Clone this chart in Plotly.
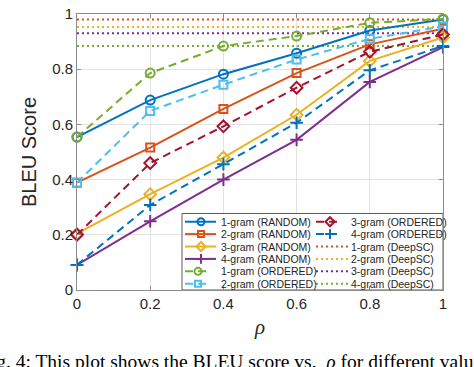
import plotly.graph_objects as go

rho = [0, 0.2, 0.4, 0.6, 0.8, 1.0]

g1_random = [0.554, 0.688, 0.782, 0.858, 0.940, 0.980]
g2_random = [0.389, 0.516, 0.656, 0.786, 0.890, 0.947]
g3_random = [0.204, 0.347, 0.480, 0.635, 0.830, 0.915]
g4_random = [0.091, 0.249, 0.400, 0.544, 0.754, 0.880]
g1_ordered = [0.554, 0.786, 0.884, 0.920, 0.968, 0.982]
g2_ordered = [0.389, 0.649, 0.744, 0.835, 0.910, 0.955]
g3_ordered = [0.200, 0.460, 0.593, 0.733, 0.863, 0.926]
g4_ordered = [0.091, 0.308, 0.456, 0.606, 0.796, 0.884]
deepsc = [0.980, 0.953, 0.930, 0.884]
deepsc_names = ["1-gram (DeepSC)", "2-gram (DeepSC)", "3-gram (DeepSC)", "4-gram (DeepSC)"]

BLUE = "#0072BD"; ORANGE = "#D95319"; YELLOW = "#EDB120"; PURPLE = "#7E2F8E"
GREEN = "#77AC30"; LBLUE = "#4DBEEE"; DRED = "#A2142F"

DASH = "8px,5px"
DOT = "2px,3px"

series = [
    ("1-gram (RANDOM)", g1_random, BLUE, "solid", "circle-open"),
    ("2-gram (RANDOM)", g2_random, ORANGE, "solid", "square-open"),
    ("3-gram (RANDOM)", g3_random, YELLOW, "solid", "diamond-open"),
    ("4-gram (RANDOM)", g4_random, PURPLE, "solid", "cross-thin-open"),
    ("1-gram (ORDERED)", g1_ordered, GREEN, DASH, "circle-open"),
    ("2-gram (ORDERED)", g2_ordered, LBLUE, DASH, "square-open"),
    ("3-gram (ORDERED)", g3_ordered, DRED, DASH, "diamond-open"),
    ("4-gram (ORDERED)", g4_ordered, BLUE, DASH, "cross-thin-open"),
]
ds_colors = [ORANGE, YELLOW, PURPLE, GREEN]

def msize(sym):
    return 9 if "cross" in sym else (8 if "square" in sym else 9)

fig = go.Figure()

# DeepSC reference lines
for v, c, n in zip(deepsc, ds_colors, deepsc_names):
    fig.add_trace(go.Scatter(x=[rho[0], rho[-1]], y=[v, v], name=n, mode="lines",
                             line=dict(color=c, width=2, dash=DOT), showlegend=False))

for name, y, c, d, sym in series:
    fig.add_trace(go.Scatter(
        x=rho, y=y, name=name, mode="lines+markers",
        line=dict(color=c, width=2, dash=d),
        marker=dict(symbol=sym, size=msize(sym), color=c, line=dict(color=c, width=2)),
        showlegend=False, cliponaxis=False))

# ---- manual legend (layout only), drawn on an overlay axis in pixel units ----
L, R, T, B = 77, 443, 5, 290
row_y = [219.5, 232.3, 245.1, 257.9, 270.7, 283.5]
entries = [(s[0], s[2], s[3], s[4]) for s in series] + \
          [(n, c, DOT, None) for n, c in zip(deepsc_names, ds_colors)]
font = "Liberation Sans, Arial, sans-serif"
annotations = []
for i, (name, c, d, sym) in enumerate(entries):
    col, row = divmod(i, 6)
    yy = row_y[row]
    if col == 0:
        if d == "solid":
            x0, x1, xm = 185, 216, 201
        else:
            x0, x1, xm = 185, 211, 198
        xt = 219
    else:
        if sym is None:
            x0, x1, xm = 316, 348, None
        else:
            x0, x1, xm = 316, 342, 330
        xt = 349
    fig.add_trace(go.Scatter(x=[x0, x1], y=[yy, yy], mode="lines", xaxis="x2", yaxis="y2",
                             line=dict(color=c, width=2, dash=d), showlegend=False, hoverinfo="skip"))
    if xm is not None:
        fig.add_trace(go.Scatter(x=[xm], y=[yy], mode="markers", xaxis="x2", yaxis="y2",
                                 marker=dict(symbol=sym, size=msize(sym) - 2, color=c, line=dict(color=c, width=2)),
                                 showlegend=False, hoverinfo="skip"))
    annotations.append(dict(text=name, xref="x2", yref="y2", x=xt, y=yy, xanchor="left", yanchor="middle",
                            showarrow=False, font=dict(family=font, size=10.5, color="#262626")))

annotations.append(dict(text="Fig. 4: This plot shows the BLEU score vs.  <i>ρ</i> for different values",
                        xref="paper", yref="paper", x=-0.270, y=-0.214, xanchor="left", yanchor="top",
                        showarrow=False,
                        font=dict(family="Liberation Serif, Times New Roman, serif", size=19.5, color="black")))

axis_common = dict(
    range=[0, 1], showgrid=True, gridcolor="#E3E3E3", gridwidth=1,
    showline=True, linecolor="#8C8C8C", linewidth=1, mirror="ticks",
    ticks="inside", ticklen=4, tickcolor="#8C8C8C", zeroline=False,
    tickfont=dict(family=font, size=15, color="#262626"), ticklabeloverflow="allow",
    tickvals=[0, 0.2, 0.4, 0.6, 0.8, 1], ticktext=["0", "0.2", "0.4", "0.6", "0.8", "1"],
)

# legend box in main-axis units
box_x0 = (182 - L) / (R - L)
box_y1 = (B - 211) / (B - T)

fig.update_layout(
    width=474, height=367,
    margin=dict(l=L, r=474 - R, t=T, b=367 - B),
    paper_bgcolor="white", plot_bgcolor="white",
    showlegend=False,
    xaxis=dict(**axis_common, title=dict(text="<i>ρ</i>", font=dict(family="Liberation Serif, Times New Roman, serif", size=21, color="#262626"), standoff=8)),
    yaxis=dict(**axis_common, title=dict(text="BLEU Score", font=dict(family=font, size=20, color="#262626"), standoff=10)),
    xaxis2=dict(range=[L, R], overlaying="x", anchor="y2", visible=False, fixedrange=True),
    yaxis2=dict(range=[B, T], overlaying="y", anchor="x2", visible=False, fixedrange=True),
    shapes=[dict(type="rect", xref="x", yref="y", x0=box_x0, x1=1, y0=0, y1=box_y1,
                 line=dict(color="#5A5A5A", width=1), fillcolor="white", layer="between")],
    annotations=annotations,
)

fig.write_html("out.html", config={"displayModeBar": False},
               post_script="document.body.style.margin='0';document.body.style.padding='0';document.body.style.overflow='hidden';")
